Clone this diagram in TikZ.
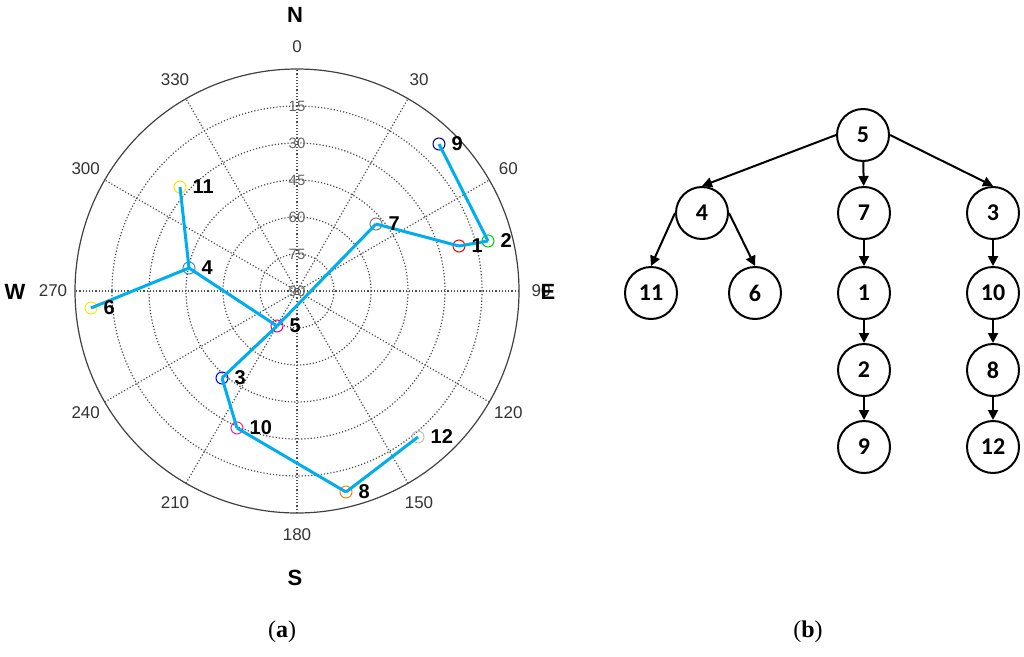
\documentclass[tikz,border=0pt]{standalone}
\usepackage{fontspec}
\setmainfont{Liberation Serif}
\setsansfont{Liberation Sans}
\newfontfamily\treefont{Carlito}
\usetikzlibrary{arrows.meta,calc}
\begin{document}
\begin{tikzpicture}[x=1pt,y=-1pt,
  grid/.style={black!70,line width=1.2pt,dotted},
  ang/.style={font=\sffamily\fontsize{17}{17}\selectfont,text=black!80},
  elev/.style={font=\sffamily\fontsize{15}{15}\selectfont,text=black!60,inner sep=0pt},
  dir/.style={font=\sffamily\bfseries\fontsize{22}{22}\selectfont},
  pt/.style={circle,draw=#1,line width=1pt,minimum size=12pt,inner sep=0pt},
  plab/.style={font=\sffamily\bfseries\fontsize{20}{20}\selectfont,anchor=west,inner sep=1pt},
  link/.style={cyan,line width=3pt},
  tn/.style={circle,draw,line width=2pt,minimum size=52pt,inner sep=0pt,font=\treefont\bfseries\fontsize{24}{24}\selectfont},
  ta/.style={line width=2pt,-{Triangle[length=10pt,width=10pt]}},
  captext/.style={font=\fontsize{24}{24}\selectfont}]
\useasboundingbox (0,0) rectangle (1024,656);
\coordinate (c) at (297,291);
% grid
\foreach \r in {37,74,111,148,185} \draw[grid] (c) circle (\r);
\foreach \a in {0,30,...,150} \draw[grid] ($(c)+(\a:222)$) -- ($(c)+(\a+180:222)$);
\draw[black!75,line width=1.2pt] (c) circle (222);
\foreach \d in {0,30,...,330}
  \node[ang] at ({297+244*sin(\d)},{291-244*cos(\d)}) {\d};
\foreach \r/\t in {185/15,148/30,111/45,74/60,37/75,0/90}
  \node[elev] at (297,{291-\r}) {\t};
\node[dir] at (295,15) {N};
\node[dir] at (295,578) {S};
\node[dir] at (15,292) {W};
\node[dir] at (548,292) {E};
% points
\node[pt=blue!50!black] (p9) at (439,144) {};
\node[pt=green!80!black] (p2) at (488,241) {};
\node[pt=red] (p1) at (459,246) {};
\node[pt=gray] (p7) at (376,224) {};
\node[pt=magenta] (p5) at (277,326) {};
\node[pt=cyan!70!black] (p4) at (189,268) {};
\node[pt=yellow!80!orange] (p11) at (180,187) {};
\node[pt=yellow!90!orange] (p6) at (91,308) {};
\node[pt=blue] (p3) at (222,378) {};
\node[pt=magenta!80!pink] (p10) at (237,428) {};
\node[pt=orange] (p8) at (346,492) {};
\node[pt=black!25] (p12) at (418,437) {};
\foreach \a/\b in {p9/p2,p2/p1,p1/p7,p7/p5,p5/p4,p4/p11,p4/p6,p5/p3,p3/p10,p10/p8,p8/p12}
  \draw[link] (\a.center) -- (\b.center);
\foreach \p/\t in {p9/9,p2/2,p1/1,p7/7,p5/5,p4/4,p11/11,p6/6,p3/3,p10/10,p8/8,p12/12}
  \node[plab] at ([xshift=5pt]\p.east) {\t};
% tree
\node[tn] (t5) at (863,135) {5};
\node[tn] (t4) at (702,213) {4};
\node[tn] (t7) at (864,213) {7};
\node[tn] (t3) at (993,213) {3};
\node[tn] (t11) at (651,293) {11};
\node[tn] (t6) at (755,293) {6};
\node[tn] (t1) at (864,293) {1};
\node[tn] (t10) at (993,293) {10};
\node[tn] (t2) at (864,370) {2};
\node[tn] (t8) at (993,370) {8};
\node[tn] (t9) at (864,447) {9};
\node[tn] (t12) at (993,447) {12};
\draw[ta] (t5.west) -- (t4.north);
\draw[ta] (t5) -- (t7);
\draw[ta] (t5.east) -- (t3.north);
\draw[ta] (t4.west) -- (t11.north);
\draw[ta] (t4.east) -- (t6.north);
\draw[ta] (t7) -- (t1);
\draw[ta] (t1) -- (t2);
\draw[ta] (t2) -- (t9);
\draw[ta] (t3) -- (t10);
\draw[ta] (t10) -- (t8);
\draw[ta] (t8) -- (t12);
\node[captext] (ca) at (282,632) {(\textbf{a})};
\node[captext] (cb) at (808,632) {(\textbf{b})};
\end{tikzpicture}
\end{document}
